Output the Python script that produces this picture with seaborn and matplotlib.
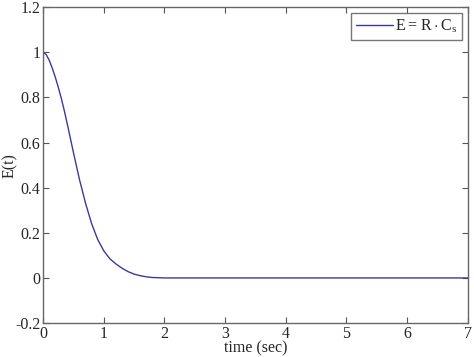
import numpy as np
import pandas as pd
import matplotlib
matplotlib.use("Agg")
import matplotlib.pyplot as plt
import seaborn as sns

# values
time_sec = [0.0, 0.05, 0.1, 0.15, 0.2, 0.25, 0.3, 0.35, 0.4, 0.5, 0.6, 0.7, 0.8, 0.9, 1.0,
            1.1, 1.2, 1.3, 1.4, 1.5, 1.6, 1.7, 1.8, 1.9, 2.0,
            3.0, 4.0, 5.0, 6.0, 7.0]
energy = [1.0, 0.99, 0.965, 0.93, 0.89, 0.845, 0.795, 0.74, 0.68, 0.555, 0.435, 0.33,
          0.24, 0.17, 0.12,
          0.085, 0.062, 0.043, 0.028, 0.017, 0.010, 0.005, 0.002, 0.001, 0.0,
          0.0, 0.0, 0.0, 0.0, 0.0]
x_ticks = [0, 1, 2, 3, 4, 5, 6, 7]
y_ticks = [-0.2, 0, 0.2, 0.4, 0.6, 0.8, 1, 1.2]
y_tick_labels = ["-0.2", "0", "0.2", "0.4", "0.6", "0.8", "1", "1.2"]
legend_label = r"$\mathrm{E = R\,{\cdot}\,C_{s}}$"

sns.set_style("ticks")
plt.rcParams["font.family"] = ["Liberation Serif", "DejaVu Serif"]
plt.rcParams["mathtext.fontset"] = "custom"
plt.rcParams["mathtext.rm"] = "Liberation Serif"

df = pd.DataFrame({"t": time_sec, "E": energy})

fig = plt.figure(figsize=(4.74, 3.57), dpi=100)
ax = fig.add_axes([0.091, 0.095, 0.896, 0.885])
sns.lineplot(data=df, x="t", y="E", ax=ax, color="#3a3a9a", linewidth=1.0,
             label=legend_label)

ax.set_xlim(0, 7)
ax.set_ylim(-0.2, 1.2)
ax.set_xticks(x_ticks)
ax.set_xticklabels([str(v) for v in x_ticks])
ax.set_yticks(y_ticks)
ax.set_yticklabels(y_tick_labels)
ax.tick_params(direction="in", top=True, right=True, labelsize=11.5,
               length=4, width=0.8, color="#555555", pad=2)
for s in ax.spines.values():
    s.set_color("#666666")
    s.set_linewidth(1.0)
ax.set_xlabel("time (sec)", fontsize=11.5, labelpad=-1)
ax.set_ylabel("E(t)", fontsize=11.5)
ax.yaxis.set_label_coords(-0.06, 0.5)

leg = ax.legend(loc="upper right", fontsize=11.5, frameon=True, fancybox=False,
                handlelength=2.3, handletextpad=0.15, borderpad=0.3,
                borderaxespad=0.35)
leg.get_frame().set_edgecolor("#555555")
leg.get_frame().set_linewidth(1.0)

fig.savefig("out.png", dpi=100)
